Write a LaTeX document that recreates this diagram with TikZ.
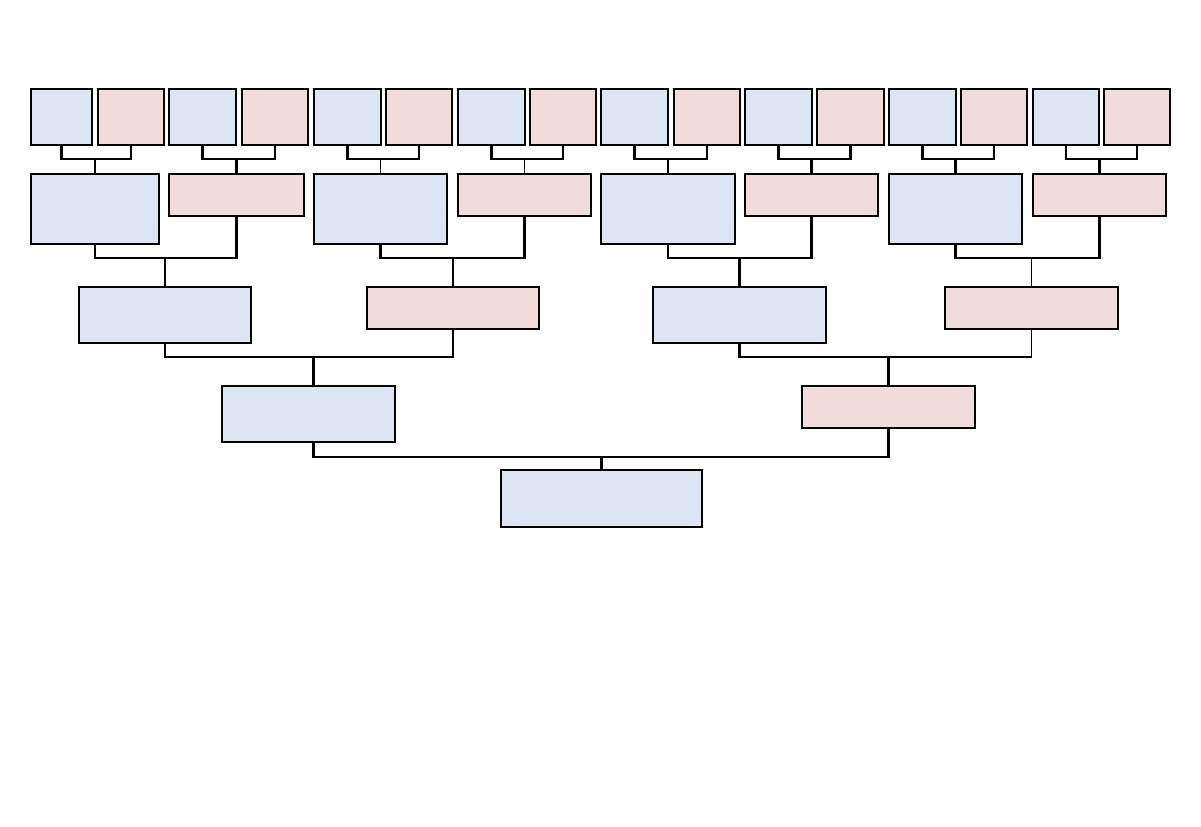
\documentclass[tikz,border=0pt]{standalone}
\usetikzlibrary{fit}
\definecolor{bfill}{HTML}{DCE5F1}
\definecolor{pfill}{HTML}{F2DCDB}
\newcommand\bx[6]{\node[#1,fit={(#3,#4) (#5,#6)}] (#2) {};}
\begin{document}
\begin{tikzpicture}[x=0.75pt,y=-0.75pt,
  box/.style={draw=black,line width=2.2pt,inner sep=0pt,outer sep=0pt},
  bb/.style={box,fill=bfill},
  pb/.style={box,fill=pfill,line width=1.8pt},
  tk/.style={line width=2.1pt,line cap=rect},
  tn/.style={line width=1pt,line cap=rect}]
\useasboundingbox (0,0) rectangle (1201,826);
% level 1
\bx{bb}{t1}{31}{89}{92}{145}
\bx{pb}{t2}{98}{89}{164}{145}
\bx{bb}{t3}{169}{89}{236}{145}
\bx{pb}{t4}{242}{89}{308}{145}
\bx{bb}{t5}{314}{89}{381}{145}
\bx{pb}{t6}{386}{89}{452}{145}
\bx{bb}{t7}{458}{89}{525}{145}
\bx{pb}{t8}{530}{89}{596}{145}
\bx{bb}{t9}{601}{89}{668}{145}
\bx{pb}{t10}{674}{89}{740}{145}
\bx{bb}{t11}{745}{89}{812}{145}
\bx{pb}{t12}{817}{89}{884}{145}
\bx{bb}{t13}{889}{89}{956}{145}
\bx{pb}{t14}{961}{89}{1027}{145}
\bx{bb}{t15}{1033}{89}{1099}{145}
\bx{pb}{t16}{1104}{89}{1170}{145}
% level 2
\bx{bb}{A}{31}{174}{159}{244}
\bx{pb}{B}{169}{174}{304}{216}
\bx{bb}{C}{314}{174}{447}{244}
\bx{pb}{D}{458}{174}{591}{216}
\bx{bb}{E}{601}{174}{735}{244}
\bx{pb}{F}{745}{174}{878}{216}
\bx{bb}{G}{889}{174}{1022}{244}
\bx{pb}{H}{1033}{174}{1166}{216}
% level 3
\bx{bb}{I}{79}{287}{251}{343}
\bx{pb}{J}{367}{287}{539}{329}
\bx{bb}{K}{653}{287}{826}{343}
\bx{pb}{L}{945}{287}{1118}{329}
% level 4
\bx{bb}{M}{222}{386}{395}{442}
\bx{pb}{N}{802}{386}{975}{428}
% level 5
\bx{bb}{O}{501}{470}{702}{527}
\coordinate (Mt) at ([xshift=4pt]M.north);
\coordinate (Mb) at ([xshift=4pt]M.south);
% level 1 brackets
\foreach \a/\b/\c/\s in {t1/t2/A/tn,t3/t4/B/tk,t5/t6/C/tn,t7/t8/D/tn,t9/t10/E/tn,t11/t12/F/tk,t13/t14/G/tk,t15/t16/H/tk}{
  \draw[tk] (\a.south) |- (\b.south |- 0,159) -- (\b.south);
  \draw[\s] (\c.north) -- (\c.north |- 0,159);
}
% level 2 brackets
\draw[tn] (A.south) -- (A.south |- 0,258);
\draw[tk] (A.south |- 0,258) -| (B.south);
\draw[tk] (I.north) -- (I.north |- 0,258);
\draw[tk] (C.south) |- (D.south |- 0,258) -- (D.south);
\draw[tk] (J.north) -- (J.north |- 0,258);
\draw[tk] (E.south) |- (F.south |- 0,258) -- (F.south);
\draw[tk] (K.north) -- (K.north |- 0,258);
\draw[tk] (G.south) |- (H.south |- 0,258) -- (H.south);
\draw[tn] (L.north) -- (L.north |- 0,258);
% level 3 brackets
\draw[tk] (I.south) -- (I.south |- 0,357);
\draw[tn] (I.south |- 0,357) -- (J.south |- 0,357);
\draw[tk] (J.south) -- (J.south |- 0,357);
\draw[tk] (Mt) -- (Mt |- 0,357);
\draw[tk] (K.south) -- (K.south |- 0,357);
\draw[tn] (K.south |- 0,357) -| (L.south);
\draw[tk] (N.north) -- (N.north |- 0,357);
% level 4 bracket
\draw[tk] (Mb) |- (N.south |- 0,457) -- (N.south);
\draw[tk] (O.north) -- (O.north |- 0,457);
\end{tikzpicture}
\end{document}
